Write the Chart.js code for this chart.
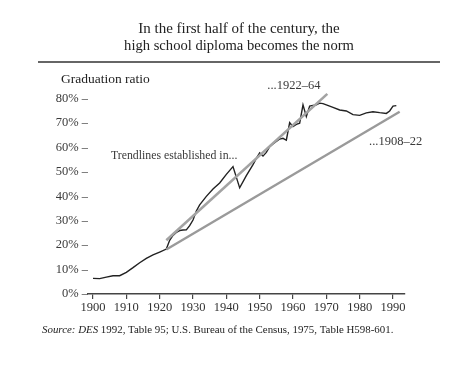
<!DOCTYPE html>
<html>
<head>
<meta charset="utf-8">
<script src="https://cdn.jsdelivr.net/npm/chart.js@4.4.1/dist/chart.umd.min.js"></script>
<style>
  html, body { margin: 0; padding: 0; background: #fff; }
  #wrap { position: relative; width: 474px; height: 377px; }
</style>
</head>
<body>
<div id="wrap"><canvas id="gradChart" width="474" height="377"></canvas></div>
<script>
// graduation ratio
const years = [1900, 1902, 1904, 1906, 1908, 1910, 1912, 1914, 1916, 1918, 1920, 1922, 1923, 1924, 1925,
    1926, 1927, 1928, 1929, 1930, 1931, 1932, 1934, 1936, 1938, 1940, 1942, 1944, 1946, 1948, 1949, 1950,
    1951, 1952, 1953, 1954, 1956, 1957, 1958, 1959, 1960, 1961, 1962, 1963, 1964, 1965, 1966, 1967, 1968,
    1969, 1970, 1972, 1974, 1976, 1978, 1980, 1982, 1984, 1986, 1988, 1989, 1990, 1991];
const gradRatio = [6.4, 6.3, 6.9, 7.5, 7.5, 8.9, 10.8, 12.8, 14.6, 16.0, 17.2, 18.4, 22.0, 24.0, 25.2,
    26.0, 26.2, 26.3, 28.0, 30.3, 34.0, 36.5, 40.0, 43.0, 45.5, 49.0, 52.2, 43.5, 48.5, 53.0, 55.6, 57.8,
    56.5, 58.0, 60.4, 61.5, 63.5, 63.8, 63.0, 70.2, 68.6, 69.5, 70.0, 77.5, 72.7, 77.0, 77.3, 77.5, 78.2,
    78.0, 77.5, 76.5, 75.4, 75.0, 73.5, 73.2, 74.2, 74.7, 74.3, 74.0, 75.0, 77.0, 77.2];

// trendlines (end points)
const trend1922Years = [1922, 1970.3];
const trend1922Values = [22.0, 82.0];
const trend1908Years = [1922, 1992];
const trend1908Values = [18.2, 74.7];

const xTickYears = [1900, 1910, 1920, 1930, 1940, 1950, 1960, 1970, 1980, 1990];
const yTickValues = [0, 10, 20, 30, 40, 50, 60, 70, 80];

const SERIF = '"Liberation Serif", "DejaVu Serif", serif';
const INK = '#222';

const toPoints = (xs, ys) => xs.map((x, i) => ({ x: x, y: ys[i] }));

// titles, rule, notes and source line
const textLayer = {
    id: 'textLayer',
    afterDraw(chart) {
        const ctx = chart.ctx;
        const xs = chart.scales.x, ys = chart.scales.y;
        ctx.save();
        ctx.fillStyle = INK;
        ctx.textBaseline = 'alphabetic';

        ctx.textAlign = 'center';
        ctx.font = '15px ' + SERIF;
        ctx.fillText('In the first half of the century, the', 239, 33);
        ctx.font = '14.6px ' + SERIF;
        ctx.fillText('high school diploma becomes the norm', 239, 50);

        ctx.strokeStyle = '#333';
        ctx.lineWidth = 1.5;
        ctx.beginPath();
        ctx.moveTo(38, 62);
        ctx.lineTo(440, 62);
        ctx.stroke();

        ctx.textAlign = 'left';
        ctx.font = '13.5px ' + SERIF;
        ctx.fillText('Graduation ratio', 61, 83);

        ctx.fillStyle = '#3a3a3a';
        ctx.font = '12.5px ' + SERIF;
        ctx.fillText('...1922–64', xs.getPixelForValue(1952.3), ys.getPixelForValue(84.1));
        ctx.fillText('...1908–22', xs.getPixelForValue(1982.8), ys.getPixelForValue(61.1));
        ctx.font = '11.8px ' + SERIF;
        ctx.fillText('Trendlines established in...', xs.getPixelForValue(1905.4), ys.getPixelForValue(55.2));

        // source line, mixed italic / roman
        const parts = [
            ['italic', 'Source: '], ['italic', 'DES'],
            ['normal', ' 1992, Table 95; U.S. Bureau of the Census, 1975, Table H598-601.']
        ];
        let x = 42;
        ctx.fillStyle = INK;
        parts.forEach(([style, txt]) => {
            ctx.font = style + ' 10.9px ' + SERIF;
            ctx.fillText(txt, x, 333);
            x += ctx.measureText(txt).width;
        });
        ctx.restore();
    }
};

function initChart() {
    const ctx = document.getElementById('gradChart').getContext('2d');

    const config = {
        type: 'line',
        data: {
            datasets: [
                {
                    label: 'Trend 1908-22',
                    data: toPoints(trend1908Years, trend1908Values),
                    borderColor: '#9a9a9a',
                    borderWidth: 2.4,
                    pointRadius: 0,
                    tension: 0
                },
                {
                    label: 'Trend 1922-64',
                    data: toPoints(trend1922Years, trend1922Values),
                    borderColor: '#a3a3a3',
                    borderWidth: 2.6,
                    pointRadius: 0,
                    tension: 0
                },
                {
                    label: 'Graduation ratio',
                    data: toPoints(years, gradRatio),
                    borderColor: '#222',
                    borderWidth: 1.4,
                    pointRadius: 0,
                    tension: 0
                }
            ]
        },
        options: {
            responsive: false,
            animation: false,
            devicePixelRatio: 1,
            layout: { padding: { left: 0, right: 69, top: 89, bottom: 63 } },
            plugins: {
                legend: { display: false },
                tooltip: { enabled: false }
            },
            scales: {
                x: {
                    type: 'linear',
                    min: 1898.5,
                    max: 1993.6,
                    afterBuildTicks: (scale) => { scale.ticks = xTickYears.map(v => ({ value: v })); },
                    afterFit: (scale) => { scale.height = 20; },
                    border: { display: true, color: '#444', width: 1.6 },
                    grid: { display: true, drawOnChartArea: false, drawTicks: true, tickLength: 5, color: '#444', lineWidth: 1.2 },
                    ticks: {
                        padding: 1,
                        maxRotation: 0,
                        color: '#333',
                        font: { family: SERIF, size: 12.5 },
                        callback: (v) => String(v)
                    }
                },
                y: {
                    min: 0,
                    max: 84,
                    afterBuildTicks: (scale) => { scale.ticks = yTickValues.map(v => ({ value: v })); },
                    afterFit: (scale) => { scale.width = 88; },
                    border: { display: false },
                    grid: { display: false, drawTicks: false },
                    ticks: {
                        padding: 0,
                        color: '#3a3a3a',
                        font: { family: SERIF, size: 12.5 },
                        callback: (v) => v + '% –'
                    }
                }
            }
        },
        plugins: [textLayer]
    };

    new Chart(ctx, config);
}

document.addEventListener('DOMContentLoaded', initChart);
</script>
</body>
</html>
